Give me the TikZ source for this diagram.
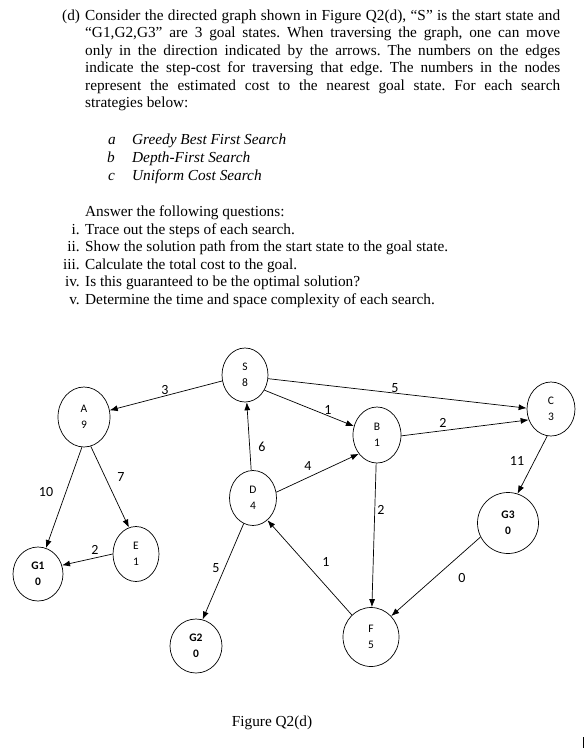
\documentclass[tikz,border=0pt]{standalone}
\usepackage{fontspec}
\setmainfont{Liberation Serif}
\newfontfamily\calibri{Carlito}
\usetikzlibrary{shapes.geometric,arrows.meta}
\frenchspacing

\tikzset{
  state/.style={draw, ellipse, line width=0.7pt, inner sep=0pt, align=center,
    font=\calibri\fontsize{11.5}{16}\selectfont},
  goal/.style={state, font=\calibri\bfseries\fontsize{11.5}{16}\selectfont},
  cost/.style={inner sep=0pt, font=\calibri\fontsize{14}{16}\selectfont},
  edge/.style={-{Latex[length=8pt,width=6pt]}, line width=0.7pt},
  txt/.style={anchor=base west, inner sep=0pt, font=\fontsize{15.3}{17.5}\selectfont},
  num/.style={txt, anchor=base east},
}

\begin{document}
\begin{tikzpicture}[x=1pt, y=-1pt]
    \fill[white] (0,0) rectangle (585,748);
    \useasboundingbox (0,0) rectangle (585,748);

    % Question text
    \node[txt] (qd) at (62,20) {(d)};
    \node[txt] (q1) at (85,20) {\makebox[475pt][s]{Consider the directed graph shown in Figure Q2(d), “S” is the start state and}};
    \node[txt] (q2) at (85,37.5) {\makebox[475pt][s]{“G1,G2,G3” are 3 goal states. When traversing the graph, one can move}};
    \node[txt] (q3) at (85,55) {\makebox[475pt][s]{only in the direction indicated by the arrows. The numbers on the edges}};
    \node[txt] (q4) at (85,72.5) {\makebox[475pt][s]{indicate the step-cost for traversing that edge. The numbers in the nodes}};
    \node[txt] (q5) at (85,90) {\makebox[475pt][s]{represent the estimated cost to the nearest goal state. For each search}};
    \node[txt] (q6) at (85,107.5) {strategies below:};

    % Search strategies
    \node[txt] (la) at (108,144.5) {\itshape a};
    \node[txt] (sa) at (132,144.5) {\itshape Greedy Best First Search};
    \node[txt] (lb) at (107,162.5) {\itshape b};
    \node[txt] (sb) at (132,162.5) {\itshape Depth-First Search};
    \node[txt] (lc) at (108,180.5) {\itshape c};
    \node[txt] (sc) at (132,180.5) {\itshape Uniform Cost Search};

    % Questions
    \node[txt] (ans) at (85,216.5) {Answer the following questions:};
    \node[num] (n1) at (80,234) {i.};
    \node[txt] (a1) at (85,234) {Trace out the steps of each search.};
    \node[num] (n2) at (80,251.5) {ii.};
    \node[txt] (a2) at (85,251.5) {Show the solution path from the start state to the goal state.};
    \node[num] (n3) at (80,269) {iii.};
    \node[txt] (a3) at (85,269) {Calculate the total cost to the goal.};
    \node[num] (n4) at (80,286.5) {iv.};
    \node[txt] (a4) at (85,286.5) {Is this guaranteed to be the optimal solution?};
    \node[num] (n5) at (80,304) {v.};
    \node[txt] (a5) at (85,304) {Determine the time and space complexity of each search.};

    % States
    \node[state, minimum width=46pt, minimum height=54pt] (S) at (245,375) {S\\8};
    \node[state, minimum width=52pt, minimum height=60pt] (A) at (84,417) {A\\9};
    \node[state, minimum width=47pt, minimum height=55pt] (D) at (253,498) {D\\4};
    \node[state, minimum width=46pt, minimum height=55pt] (E) at (136,554) {E\\1};
    \node[state, minimum width=48pt, minimum height=56pt] (B) at (377,435) {B\\1};
    \node[state, minimum width=48pt, minimum height=54pt] (C) at (551,409) {C\\3};
    \node[state, minimum width=56pt, minimum height=59pt] (F) at (371,637) {F\\5};
    \node[goal, minimum width=50pt, minimum height=54pt] (G1) at (38,574) {G1\\0};
    \node[goal, minimum width=52pt, minimum height=54pt] (G2) at (196,646) {G2\\0};
    \node[goal, minimum width=61pt, minimum height=61pt] (G3) at (508,523) {G3\\0};

    % Edges
    \draw[edge] (S) -- (A);
    \draw[edge] (S.-9) -- (C.178);
    \draw[edge] (S.-38) -- (B.159);
    \draw[edge] (B.-2) -- (C.206);
    \draw[edge] (D) -- (S);
    \draw[edge] (D.14) -- (B.226);
    \draw[edge] (A.266) -- (G1.73);
    \draw[edge] (A.283) -- (E.105);
    \draw[edge] (E.west) -- (G1.20);
    \draw[edge] (D.250) -- (G2.76);
    \draw[edge] (F.131) -- (D.303);
    \draw[edge] (B) -- (F);
    \draw[edge] (G3.207) -- (F.46);
    \draw[edge] (C.262) -- (G3.72);

    % Step costs
    \node[cost] (cSA) at (165,390) {3};
    \node[cost] (cSC) at (395,388) {5};
    \node[cost] (cSB) at (328,410) {1};
    \node[cost] (cBC) at (443,423) {2};
    \node[cost] (cDS) at (262,447) {6};
    \node[cost] (cDB) at (308,466) {4};
    \node[cost] (cAG) at (46,492) {10};
    \node[cost] (cAE) at (121,477) {7};
    \node[cost] (cEG) at (95,550) {2};
    \node[cost] (cDG) at (216,568) {5};
    \node[cost] (cFD) at (326,562) {1};
    \node[cost] (cBF) at (381,510) {2};
    \node[cost] (cCG) at (517,461) {11};
    \node[cost] (cGF) at (462,578) {0};

    % Caption
    \node[txt, anchor=base] (cap) at (272,726.5) {Figure Q2(d)};
    \draw[line width=1pt] (583.5,737) -- (583.5,748);
\end{tikzpicture}
\end{document}
